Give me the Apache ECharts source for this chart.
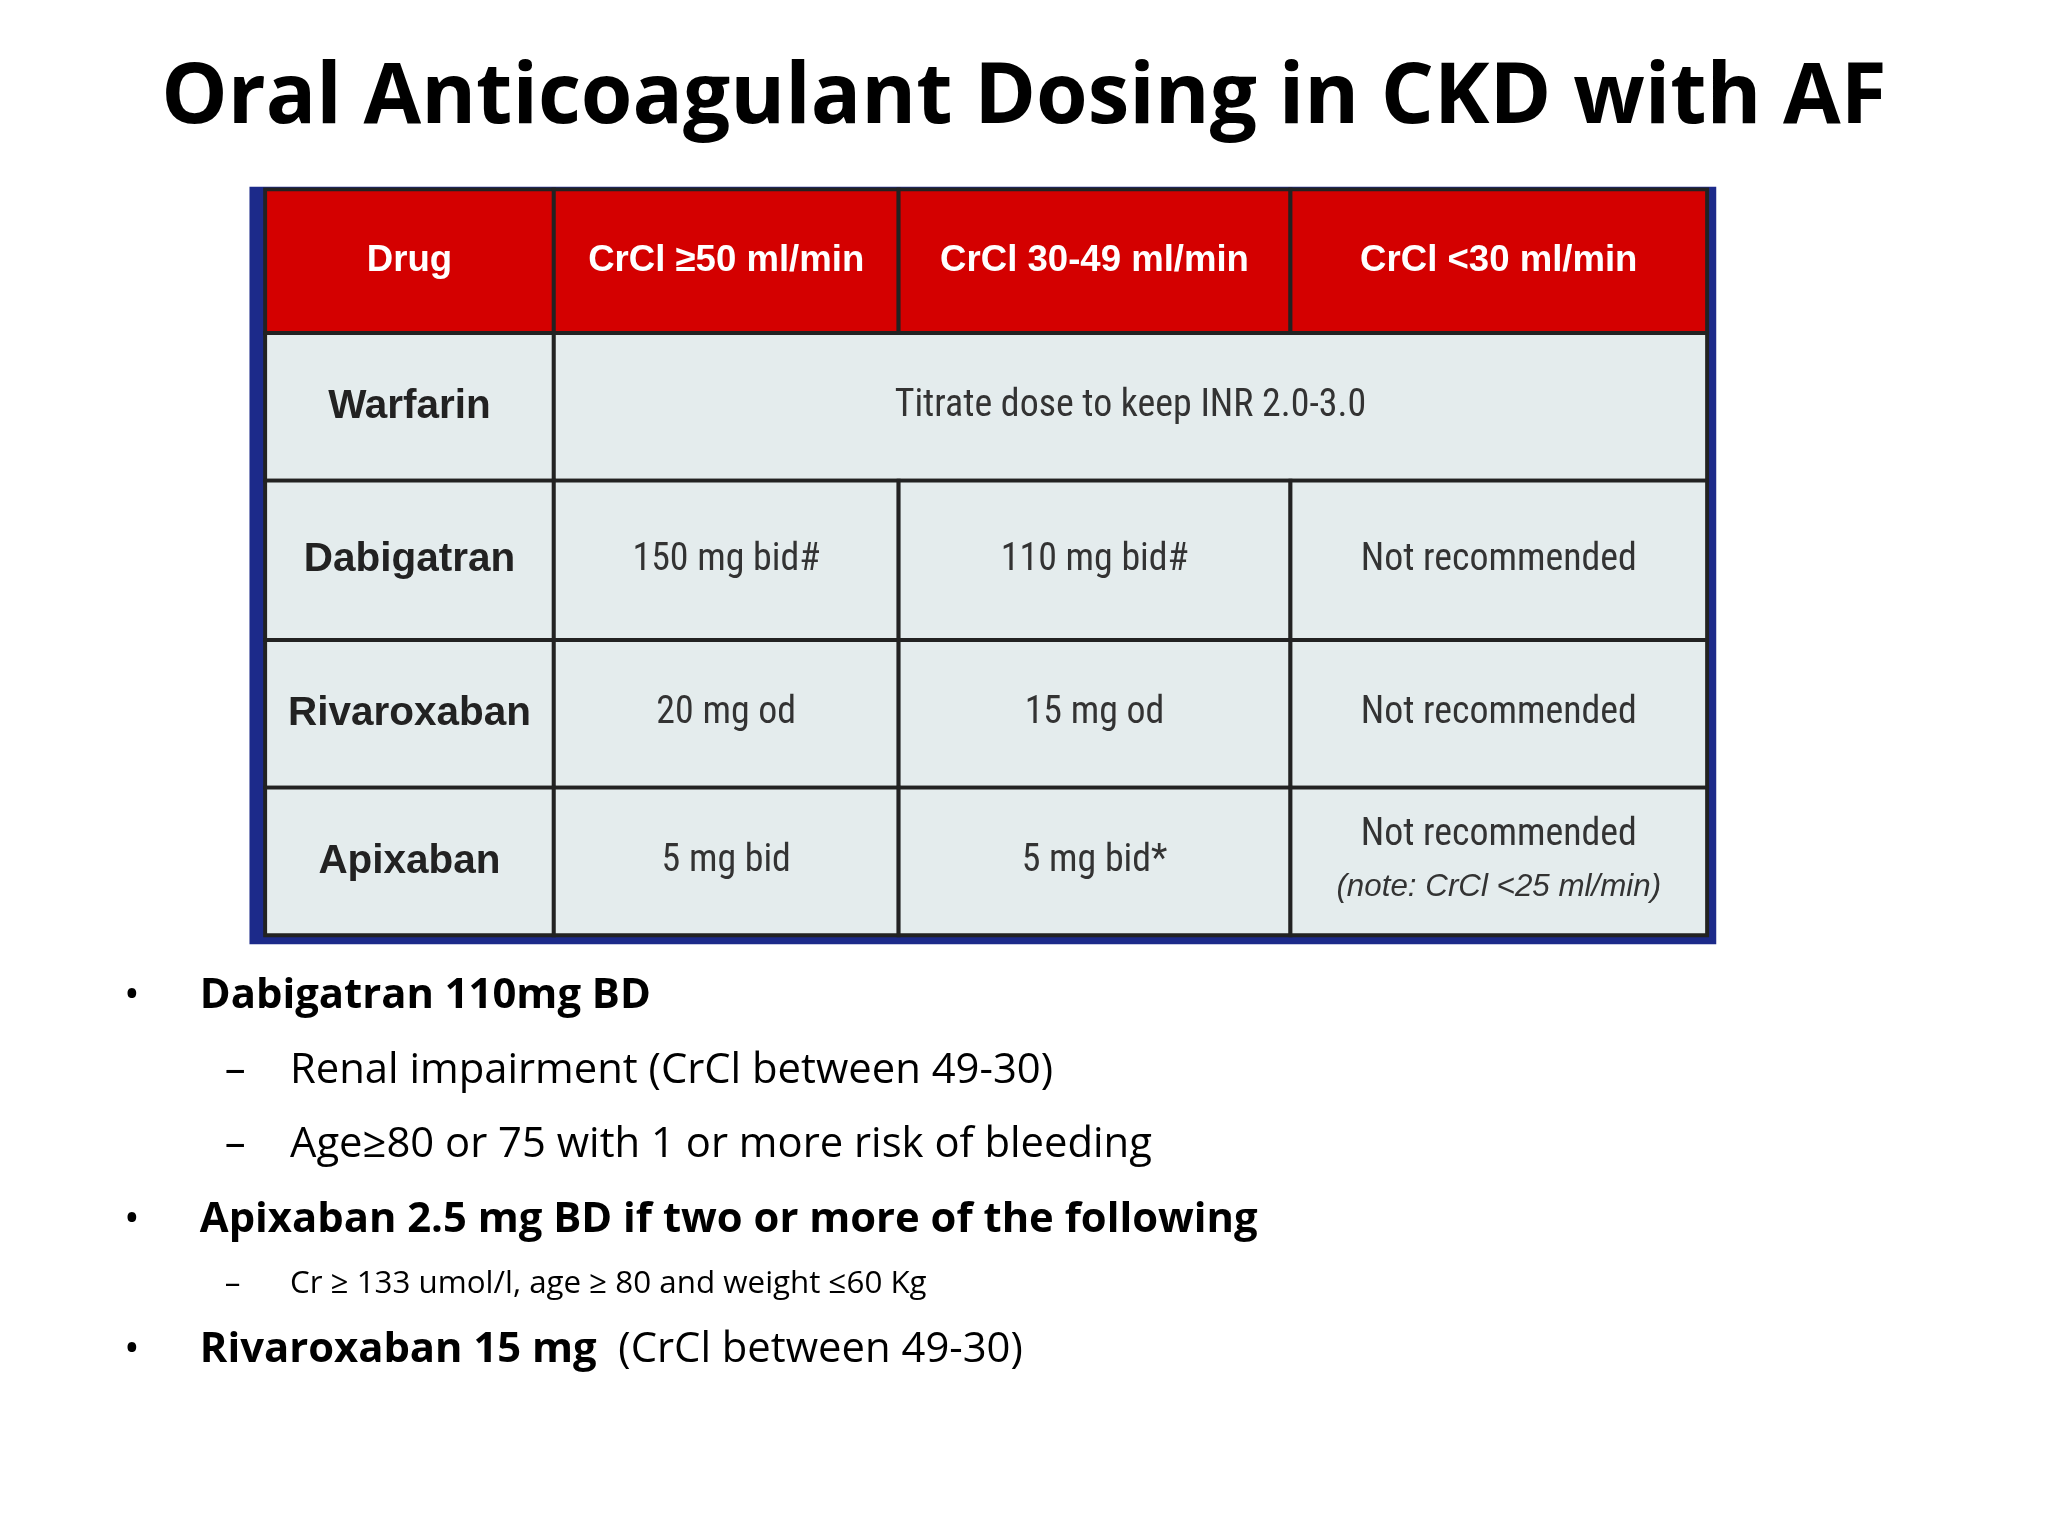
<!DOCTYPE html>
<html><head><meta charset="utf-8">
<script src="https://cdn.jsdelivr.net/npm/echarts@6/dist/echarts.min.js"></script>
<style>html,body{margin:0;padding:0;background:#fff}#c{width:2048px;height:1536px}</style>
</head><body><div id="c"></div>
<script>
const title = "Oral Anticoagulant Dosing in CKD with AF";
const headers = ["Drug", "CrCl ≥50 ml/min", "CrCl 30-49 ml/min", "CrCl <30 ml/min"];
const drugs = ["Warfarin", "Dabigatran", "Rivaroxaban", "Apixaban"];
const dose50 = ["Titrate dose to keep INR 2.0-3.0", "150 mg bid#", "20 mg od", "5 mg bid"];
const dose30 = ["", "110 mg bid#", "15 mg od", "5 mg bid*"];
const dose0 = ["", "Not recommended", "Not recommended", "Not recommended\n{i|(note: CrCl <25 ml/min)}"];
const bullets = [
  {lvl:0, bold:"Dabigatran 110mg BD", rest:""},
  {lvl:1, bold:"", rest:"Renal impairment (CrCl between 49-30)"},
  {lvl:1, bold:"", rest:"Age≥80 or 75 with 1 or more risk of bleeding"},
  {lvl:0, bold:"Apixaban 2.5 mg BD if two or more of the following", rest:""},
  {lvl:2, bold:"", rest:"Cr ≥ 133 umol/l, age ≥ 80 and weight ≤60 Kg"},
  {lvl:0, bold:"Rivaroxaban 15 mg", rest:"  (CrCl between 49-30)"}
];
const S = 2048/1568;
const colX = [203, 424, 688, 988, 1307].map(v=>v*S);
const rowY = [145, 255, 368, 490, 603, 716].map(v=>v*S);
const bulletY = [763, 820, 877, 934, 983, 1034].map(v=>v*S);
const g = [];
g.push({type:'text', left:'center', top:44*S, style:{text:title, font:'bold '+(64*S)+'px "Open Sans", sans-serif', fill:'#000'}});
g.push({type:'rect', shape:{x:191*S, y:143*S, width:(1314-191)*S, height:(723-143)*S}, style:{fill:'#1c2a8a'}});
const cellFont = (29*S)+'px "Liberation Sans Narrow","Roboto Condensed","Liberation Sans",sans-serif';
const boldFont = 'bold '+(31*S)+'px "Liberation Sans Narrow","Liberation Sans",sans-serif';
function cell(x0,x1,y0,y1,fill,text,font,color){
  g.push({type:'rect', shape:{x:x0,y:y0,width:x1-x0,height:y1-y0}, style:{fill:fill, stroke:'#222', lineWidth:3*S}});
  if(text) g.push({type:'text', x:(x0+x1)/2, y:(y0+y1)/2, style:{text:text, font:font, fill:color, align:'center', verticalAlign:'middle', lineHeight:40*S,
    rich:{i:{font:'italic '+(24*S)+'px "Liberation Sans Narrow","Liberation Sans",sans-serif', fill:'#333'}}}});
}
for(let c=0;c<4;c++) cell(colX[c],colX[c+1],rowY[0],rowY[1],'#d40000',headers[c],'bold '+(28*S)+'px "Liberation Sans Narrow","Liberation Sans",sans-serif','#fff');
for(let r=0;r<4;r++){
  const y0=rowY[r+1], y1=rowY[r+2];
  cell(colX[0],colX[1],y0,y1,'#e4eced',drugs[r],boldFont,'#222');
  if(r===0){ cell(colX[1],colX[4],y0,y1,'#e4eced',dose50[0],cellFont,'#333'); }
  else {
    cell(colX[1],colX[2],y0,y1,'#e4eced',dose50[r],cellFont,'#333');
    cell(colX[2],colX[3],y0,y1,'#e4eced',dose30[r],cellFont,'#333');
    cell(colX[3],colX[4],y0,y1,'#e4eced',dose0[r],cellFont,'#333');
  }
}
bullets.forEach((b,i)=>{
  const y=bulletY[i];
  const sz = (b.lvl===2?24:32)*S;
  const textX = (b.lvl===0?153:222)*S;
  g.push({type:'text', x:(b.lvl===0?95:172)*S, y:y, style:{text:b.lvl===0?'•':'–', font:sz+'px "Open Sans",sans-serif', fill:'#000', verticalAlign:'middle'}});
  g.push({type:'text', x:textX, y:y, style:{text:(b.bold?'{b|'+b.bold+'}':'')+b.rest, font:sz+'px "Open Sans",sans-serif', fill:'#000', verticalAlign:'middle',
    rich:{b:{font:'bold '+sz+'px "Open Sans",sans-serif', fill:'#000'}}}});
});
const chart = echarts.init(document.getElementById('c'));
chart.setOption({backgroundColor:'#fff', graphic:g});
</script></body></html>
